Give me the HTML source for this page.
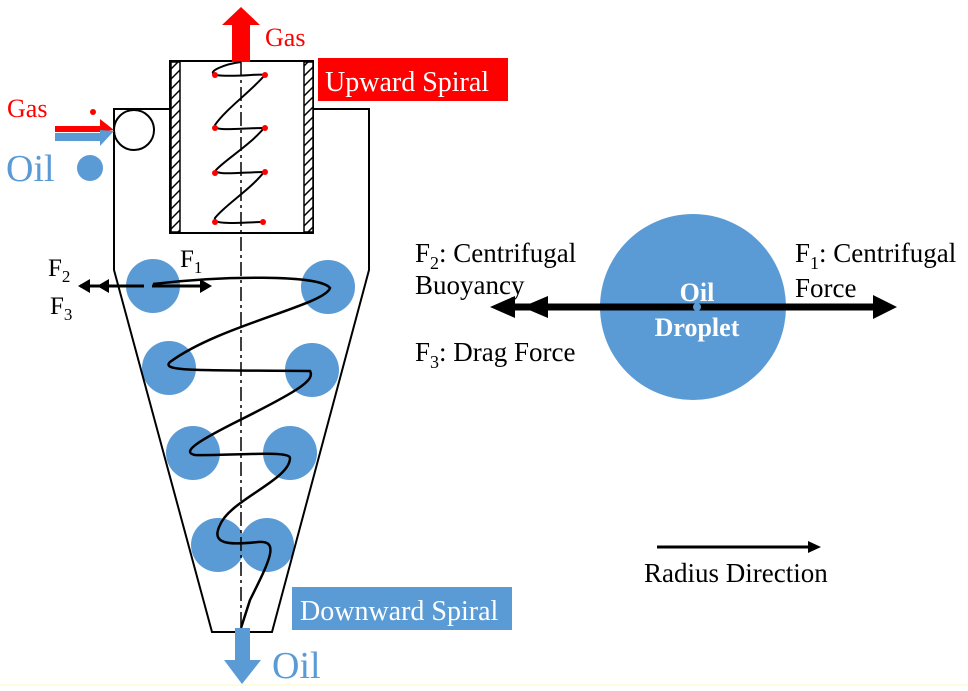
<!DOCTYPE html>
<html><head><meta charset="utf-8"><style>
html,body{margin:0;padding:0;background:#fff;}
svg{display:block;}
text{font-family:"Liberation Serif",serif;}
</style></head><body>
<svg width="968" height="691" viewBox="0 0 968 691" xmlns="http://www.w3.org/2000/svg">
<defs>
<pattern id="h" width="10" height="10" patternUnits="userSpaceOnUse">
<rect width="10" height="10" fill="#fff"/>
<path d="M-2,12 L12,-2 M-2,2 L2,-2 M8,12 L12,8" stroke="#000" stroke-width="1.5"/>
</pattern>
</defs>
<g fill="#5b9bd5">
<circle cx="153" cy="286" r="27"/><circle cx="328" cy="287" r="27"/>
<circle cx="169" cy="368" r="27"/><circle cx="312" cy="370" r="27"/>
<circle cx="193" cy="453" r="27"/><circle cx="290" cy="453" r="27"/>
<circle cx="218" cy="545" r="27"/><circle cx="267" cy="545" r="27"/>
<circle cx="90" cy="168" r="13"/>
</g>
<path d="M170,109 L114,109 L114,270 L212,632 L272,632 L369,270 L369,109 L313,109" fill="none" stroke="#000" stroke-width="2"/>
<rect x="170" y="61" width="143" height="172" fill="none" stroke="#000" stroke-width="2"/>
<rect x="171" y="62" width="9" height="170" fill="url(#h)" stroke="#000" stroke-width="1.5"/>
<rect x="304" y="62" width="9" height="170" fill="url(#h)" stroke="#000" stroke-width="1.5"/>
<line x1="241" y1="62" x2="241" y2="630" stroke="#000" stroke-width="1.5" stroke-dasharray="14,4,3,4"/>
<circle cx="134" cy="130" r="20" fill="#fff" stroke="#000" stroke-width="2"/>
<path d="M55,126 L100,126 L100,119 L114,130 L100,132 L55,132 Z" fill="#ff0000"/>
<path d="M55,133 L100,133 L100,130 L114,131 L100,146 L100,141 L55,141 Z" fill="#5b9bd5"/>
<circle cx="93" cy="112" r="3" fill="#ff0000"/>
<path d="M232,62 L232,25 L222,25 L241,7 L260,25 L250,25 L250,62 Z" fill="#ff0000"/>
<path d="M241,62 C225,64 205,72 216,75 C235,78 268,72 264,76 C250,92 225,110 215,125 C212,132 240,128 264,128 C250,145 225,160 216,170 C214,176 245,172 264,172 C250,190 225,205 215,218 C212,226 245,222 263,222" fill="none" stroke="#000" stroke-width="2"/>
<g fill="#ff0000">
<circle cx="215" cy="75" r="3"/><circle cx="265" cy="75" r="3"/>
<circle cx="215" cy="128" r="3"/><circle cx="265" cy="128" r="3"/>
<circle cx="215" cy="173" r="3"/><circle cx="265" cy="172" r="3"/>
<circle cx="215" cy="222" r="3"/><circle cx="263" cy="222" r="3"/>
</g>
<path d="M153,284 C220,276 320,274 330,288 C325,305 220,325 170,362 C160,372 200,370 310,371 C315,380 300,390 240,420 C200,440 180,452 195,455 C230,456 290,450 290,458 C290,480 230,500 220,525 C210,545 230,545 258,542 C280,540 270,560 250,600 L241,628" fill="none" stroke="#000" stroke-width="2.5"/>
<line x1="80" y1="286" x2="144" y2="286" stroke="#000" stroke-width="3"/>
<line x1="152" y1="286" x2="205" y2="286" stroke="#000" stroke-width="3"/>
<path d="M78,286 L90,279 L90,293 Z M97,286 L109,279 L109,293 Z M212,286 L200,279 L200,293 Z" fill="#000"/>
<text x="48" y="276" font-size="25">F<tspan font-size="17" dy="6">2</tspan></text>
<text x="50" y="314" font-size="25">F<tspan font-size="17" dy="6">3</tspan></text>
<text x="180" y="267" font-size="25">F<tspan font-size="17" dy="6">1</tspan></text>
<text x="7" y="117" font-size="26" fill="#ff0000">Gas</text>
<text x="6" y="181" font-size="38" fill="#5b9bd5">Oil</text>
<text x="265" y="46" font-size="26" fill="#ff0000">Gas</text>
<rect x="318" y="58" width="190" height="43" fill="#ff0000"/>
<text x="325" y="91" font-size="28" fill="#fff">Upward Spiral</text>
<rect x="292" y="587" width="220" height="43" fill="#5b9bd5"/>
<text x="300" y="620" font-size="28" fill="#fff">Downward Spiral</text>
<path d="M235,628 L235,660 L224,660 L242,684 L261,660 L250,660 L250,628 Z" fill="#5b9bd5"/>
<text x="272" y="678" font-size="38" fill="#5b9bd5">Oil</text>
<circle cx="693" cy="307" r="93" fill="#5b9bd5"/>
<line x1="500" y1="307" x2="880" y2="307" stroke="#000" stroke-width="7"/>
<path d="M490,307 L515,296 L515,318 Z M522,307 L548,296 L548,318 Z M897,307 L873,295 L873,319 Z" fill="#000"/>
<circle cx="697" cy="307" r="4" fill="#5b9bd5"/>
<text x="697" y="301" font-size="26" font-weight="bold" fill="#fff" text-anchor="middle">Oil</text>
<text x="697" y="336" font-size="26" font-weight="bold" fill="#fff" text-anchor="middle">Droplet</text>
<text x="415" y="262" font-size="27">F<tspan font-size="18" dy="7">2</tspan><tspan dy="-7">: Centrifugal</tspan></text>
<text x="415" y="294" font-size="27">Buoyancy</text>
<text x="415" y="361" font-size="27">F<tspan font-size="18" dy="7">3</tspan><tspan dy="-7">: Drag Force</tspan></text>
<text x="795" y="262" font-size="27">F<tspan font-size="18" dy="7">1</tspan><tspan dy="-7">: Centrifugal</tspan></text>
<text x="795" y="297" font-size="27">Force</text>
<line x1="657" y1="547" x2="810" y2="547" stroke="#000" stroke-width="3"/>
<path d="M821,547 L808,541 L808,553 Z" fill="#000"/>
<text x="644" y="582" font-size="27">Radius Direction</text>
<line x1="0" y1="685" x2="968" y2="685" stroke="#fdfbe0" stroke-width="2"/>
</svg>
</body></html>
